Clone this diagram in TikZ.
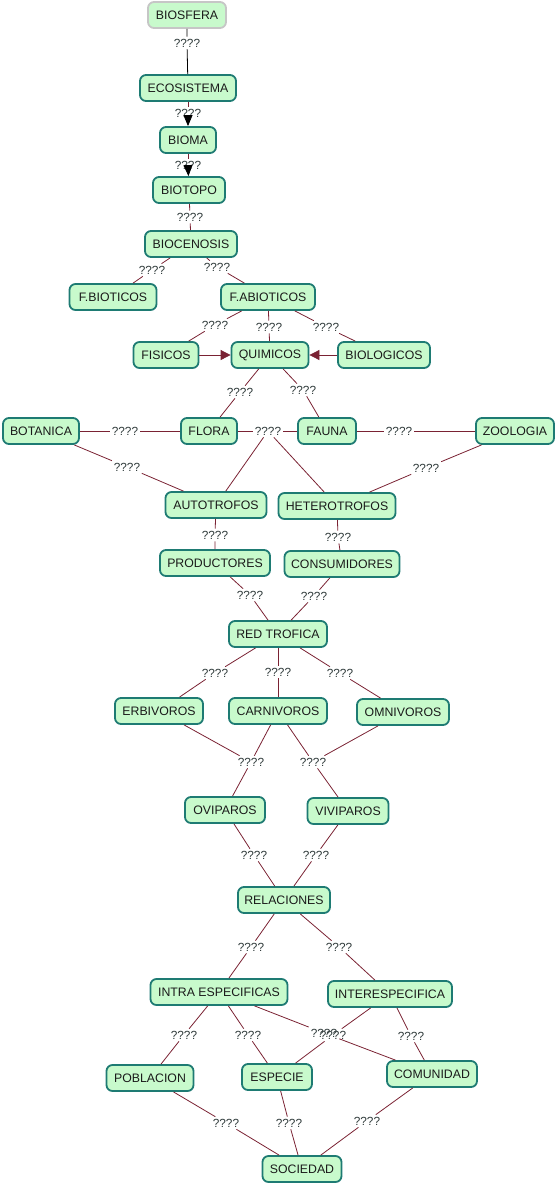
\documentclass[tikz,border=0pt]{standalone}
\usepackage{fontspec}
\setmainfont{Liberation Sans}
\usetikzlibrary{arrows.meta}
\definecolor{clrfill}{HTML}{C8FACC}
\definecolor{clrborder}{HTML}{1E7B73}
\definecolor{clrroot}{HTML}{C6C6C6}
\definecolor{clrlink}{HTML}{7A2233}
\definecolor{clrtext}{HTML}{1A1A1A}
\definecolor{clrphrase}{HTML}{2F3A3A}
\begin{document}
\begin{tikzpicture}[
    x=1pt, y=-1pt,
    every node/.style={font=\fontsize{12.3}{14}\selectfont},
    block/.style={draw=clrborder, fill=clrfill, rounded corners=6pt, line width=1.8pt,
                  minimum height=26pt, inner sep=0pt, text=clrtext},
    rootblock/.style={block, draw=clrroot},
    phrase/.style={font=\fontsize{11.8}{13}\selectfont, text=clrphrase, inner sep=2pt},
    link/.style={color=clrlink, line width=0.8pt},
    rootlink/.style={color=black, line width=0.8pt},
    darrow/.style={link, -{Triangle[black, length=11pt, width=9pt]}},
    rarrow/.style={link, -{Triangle[length=10pt, width=10pt]}},
]
\useasboundingbox (0,0) rectangle (558,1184);
% concepts
\node[rootblock, minimum width=78pt] (n_1) at (187,15) {BIOSFERA};
\node[block, minimum width=96pt] (n_2) at (188,88) {ECOSISTEMA};
\node[block, minimum width=56pt] (n_3) at (188,140) {BIOMA};
\node[block, minimum width=72pt] (n_4) at (189,190) {BIOTOPO};
\node[block, minimum width=92pt] (n_5) at (191,244) {BIOCENOSIS};
\node[block, minimum width=87pt] (n_6) at (113,297) {F.BIOTICOS};
\node[block, minimum width=94pt] (n_7) at (268,297) {F.ABIOTICOS};
\node[block, minimum width=65pt] (n_8) at (166,355) {FISICOS};
\node[block, minimum width=77pt] (n_9) at (270,355) {QUIMICOS};
\node[block, minimum width=92pt] (n_10) at (384,355) {BIOLOGICOS};
\node[block, minimum width=76pt] (n_11) at (41,431) {BOTANICA};
\node[block, minimum width=56pt] (n_12) at (209,431) {FLORA};
\node[block, minimum width=58pt] (n_13) at (327,431) {FAUNA};
\node[block, minimum width=78pt] (n_14) at (515,431) {ZOOLOGIA};
\node[block, minimum width=101pt] (n_15) at (216,505) {AUTOTROFOS};
\node[block, minimum width=117pt] (n_16) at (337,506) {HETEROTROFOS};
\node[block, minimum width=110pt] (n_17) at (215,563) {PRODUCTORES};
\node[block, minimum width=115pt] (n_18) at (342,564) {CONSUMIDORES};
\node[block, minimum width=98pt] (n_19) at (278,634) {RED TROFICA};
\node[block, minimum width=88pt] (n_20) at (159,711) {ERBIVOROS};
\node[block, minimum width=98pt] (n_21) at (278,711) {CARNIVOROS};
\node[block, minimum width=92pt] (n_22) at (403,712) {OMNIVOROS};
\node[block, minimum width=80pt] (n_23) at (225,810) {OVIPAROS};
\node[block, minimum width=81pt] (n_24) at (348,811) {VIVIPAROS};
\node[block, minimum width=92pt] (n_25) at (284,900) {RELACIONES};
\node[block, minimum width=137pt] (n_26) at (219,992) {INTRA ESPECIFICAS};
\node[block, minimum width=124pt] (n_27) at (390,994) {INTERESPECIFICA};
\node[block, minimum width=87pt] (n_28) at (150,1078) {POBLACION};
\node[block, minimum width=70pt] (n_29) at (277,1077) {ESPECIE};
\node[block, minimum width=90pt] (n_30) at (432,1074) {COMUNIDAD};
\node[block, minimum width=79pt] (n_31) at (302,1169) {SOCIEDAD};
% linking phrases
\node[phrase] (l_1) at (187,43) {????};
\node[phrase] (l_2) at (188,113) {????};
\node[phrase] (l_3) at (188,165) {????};
\node[phrase] (l_4) at (190,217) {????};
\node[phrase] (l_5) at (152,270) {????};
\node[phrase] (l_6) at (217,267) {????};
\node[phrase] (l_7) at (215,325) {????};
\node[phrase] (l_8) at (269,327) {????};
\node[phrase] (l_9) at (326,327) {????};
\node[phrase] (l_10) at (240,392) {????};
\node[phrase] (l_11) at (303,390) {????};
\node[phrase] (l_12) at (125,431) {????};
\node[phrase] (l_13) at (268,431) {????};
\node[phrase] (l_14) at (399,431) {????};
\node[phrase] (l_15) at (127,467) {????};
\node[phrase] (l_16) at (426,468) {????};
\node[phrase] (l_17) at (215,535) {????};
\node[phrase] (l_18) at (338,537) {????};
\node[phrase] (l_19) at (250,595) {????};
\node[phrase] (l_20) at (314,596) {????};
\node[phrase] (l_21) at (215,673) {????};
\node[phrase] (l_22) at (278,672) {????};
\node[phrase] (l_23) at (340,673) {????};
\node[phrase] (l_24) at (251,762) {????};
\node[phrase] (l_25) at (313,762) {????};
\node[phrase] (l_26) at (254,855) {????};
\node[phrase] (l_27) at (316,855) {????};
\node[phrase] (l_28) at (251,947) {????};
\node[phrase] (l_29) at (339,947) {????};
\node[phrase] (l_30) at (184,1035) {????};
\node[phrase] (l_31) at (248,1035) {????};
\node[phrase] (l_32) at (324,1033) {????};
\node[phrase] (l_33) at (333,1035) {????};
\node[phrase] (l_34) at (411,1036) {????};
\node[phrase] (l_35) at (226,1123) {????};
\node[phrase] (l_36) at (289,1123) {????};
\node[phrase] (l_37) at (367,1121) {????};
% connectors
\draw[rootlink] (n_1) -- (l_1) -- (n_2);
\draw[link] (n_2) -- (l_2);
\draw[darrow] (l_2) -- (n_3);
\draw[link] (n_3) -- (l_3);
\draw[darrow] (l_3) -- (n_4);
\draw[link] (n_4) -- (l_4) -- (n_5);
\draw[link] (n_5) -- (l_5) -- (n_6);
\draw[link] (n_5) -- (l_6) -- (n_7);
\draw[link] (n_7) -- (l_7) -- (n_8);
\draw[link] (n_7) -- (l_8) -- (n_9);
\draw[link] (n_7) -- (l_9) -- (n_10);
\draw[rarrow] (n_8) -- (n_9);
\draw[rarrow] (n_10) -- (n_9);
\draw[link] (n_9) -- (l_10) -- (n_12);
\draw[link] (n_9) -- (l_11) -- (n_13);
\draw[link] (n_11) -- (l_12) -- (n_12);
\draw[link] (n_12) -- (l_13) -- (n_13);
\draw[link] (l_13) -- (n_15);
\draw[link] (l_13) -- (n_16);
\draw[link] (n_13) -- (l_14) -- (n_14);
\draw[link] (n_11) -- (l_15) -- (n_15);
\draw[link] (n_14) -- (l_16) -- (n_16);
\draw[link] (n_15) -- (l_17) -- (n_17);
\draw[link] (n_16) -- (l_18) -- (n_18);
\draw[link] (n_17) -- (l_19) -- (n_19);
\draw[link] (n_18) -- (l_20) -- (n_19);
\draw[link] (n_19) -- (l_21) -- (n_20);
\draw[link] (n_19) -- (l_22) -- (n_21);
\draw[link] (n_19) -- (l_23) -- (n_22);
\draw[link] (n_20) -- (l_24) -- (n_23);
\draw[link] (n_21) -- (l_24);
\draw[link] (n_21) -- (l_25) -- (n_24);
\draw[link] (n_22) -- (l_25);
\draw[link] (n_23) -- (l_26) -- (n_25);
\draw[link] (n_24) -- (l_27) -- (n_25);
\draw[link] (n_25) -- (l_28) -- (n_26);
\draw[link] (n_25) -- (l_29) -- (n_27);
\draw[link] (n_26) -- (l_30) -- (n_28);
\draw[link] (n_26) -- (l_31) -- (n_29);
\draw[link] (n_26) -- (l_32) -- (n_30);
\draw[link] (n_27) -- (l_33) -- (n_29);
\draw[link] (n_27) -- (l_34) -- (n_30);
\draw[link] (n_28) -- (l_35) -- (n_31);
\draw[link] (n_29) -- (l_36) -- (n_31);
\draw[link] (n_30) -- (l_37) -- (n_31);
\end{tikzpicture}
\end{document}
